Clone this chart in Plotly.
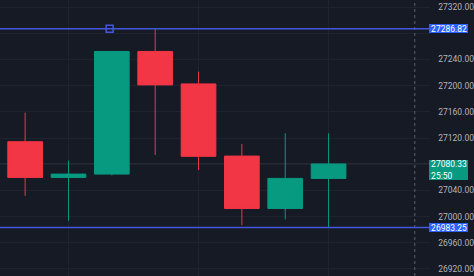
import plotly.graph_objects as go

# OHLC data for eight bars
bar_index = [0, 1, 2, 3, 4, 5, 6, 7]
opens = [27114.3, 27059.8, 27064.9, 27252.1, 27202.6, 27092.4, 27012.4, 27058.3]
highs = [27158.7, 27085.3, 27253.0, 27286.82, 27221.4, 27110.8, 27127.2, 27127.2]
lows = [27031.7, 26993.4, 27063.0, 27094.0, 27071.0, 26986.9, 26995.6, 26983.25]
closes = [27059.8, 27064.9, 27252.1, 27201.1, 27092.0, 27012.4, 27058.3, 27080.33]

# horizontal levels and last price
level_high = 27286.82
level_low = 26983.25
last_price = 27080.33
countdown = "25:50"
price_ticks = [26920, 26960, 27000, 27040, 27080, 27120, 27160, 27200, 27240, 27280, 27320]
# scale labels sitting under the price tags are not printed
covered_ticks = [27080, 27280]

BG = "#161a25"
GRID = "#1f2330"
UP = "#089981"
DOWN = "#f23645"
LINE_BLUE = "#4356dc"
LABEL_BLUE = "#2962ff"
TEXT = "#b2b5be"
PANE_RIGHT = 436 / 474
FONT = "Roboto"

fig = go.Figure()

fig.add_trace(go.Candlestick(
    x=bar_index, open=opens, high=highs, low=lows, close=closes,
    increasing=dict(line=dict(color=UP, width=1), fillcolor=UP),
    decreasing=dict(line=dict(color=DOWN, width=1), fillcolor=DOWN),
    whiskerwidth=0, showlegend=False, hoverinfo="skip",
))

# anchor handle of the upper level drawing
fig.add_trace(go.Scatter(
    x=[1.95], y=[level_high], mode="markers",
    marker=dict(symbol="square", size=7, color=BG,
                line=dict(color=LINE_BLUE, width=1.5)),
    showlegend=False, hoverinfo="skip",
))

shapes = [
    # last price line
    dict(type="line", xref="paper", yref="y", x0=0, x1=PANE_RIGHT,
         y0=last_price, y1=last_price, line=dict(color="#363a45", width=1),
         layer="below"),
    # dashed vertical marker near the scale
    dict(type="line", xref="paper", yref="paper", x0=421 / 474, x1=421 / 474,
         y0=0, y1=1, line=dict(color="#5d606b", width=1, dash="3px,3px")),
    # horizontal levels
    dict(type="line", xref="paper", yref="y", x0=0, x1=PANE_RIGHT,
         y0=level_high, y1=level_high, line=dict(color=LINE_BLUE, width=1.5)),
    dict(type="line", xref="paper", yref="y", x0=0, x1=PANE_RIGHT,
         y0=level_low, y1=level_low, line=dict(color=LINE_BLUE, width=1.5)),
]

tag_font = dict(family=FONT, size=8.5, color="#ffffff")
tag_common = dict(xref="paper", yref="y", x=PANE_RIGHT, xanchor="left",
                  showarrow=False, align="left", borderpad=0, borderwidth=0,
                  font=tag_font)
annotations = [
    dict(tag_common, y=level_high, yanchor="middle", xshift=-1,
         text=f"&nbsp;{level_high:.2f}", bgcolor=LABEL_BLUE, width=39, height=9),
    dict(tag_common, y=level_low, yanchor="middle", xshift=-1,
         text=f"&nbsp;{level_low:.2f}", bgcolor=LABEL_BLUE, width=39, height=9),
    dict(tag_common, y=last_price, yanchor="top", yshift=4, xshift=-1,
         text=f"&nbsp;{last_price:.2f}<br>&nbsp;{countdown}", bgcolor=UP,
         width=39, height=20),
]

fig.update_layout(
    width=474, height=276,
    margin=dict(l=0, r=0, t=0, b=0),
    paper_bgcolor=BG, plot_bgcolor=BG,
    boxgap=0.2, boxgroupgap=0,
    shapes=shapes, annotations=annotations,
    xaxis=dict(domain=[0, PANE_RIGHT], range=[-0.58, 9.33],
               rangeslider=dict(visible=False), showticklabels=False,
               tickvals=[1, 4, 7], showgrid=True, gridcolor=GRID, gridwidth=1,
               zeroline=False, showline=False, fixedrange=True),
    yaxis=dict(side="right", range=[26909.3, 27330.7], tickvals=price_ticks,
               ticktext=["" if v in covered_ticks else f"{v:.2f}" for v in price_ticks],
               showgrid=True, gridcolor=GRID, gridwidth=1, zeroline=False,
               ticks="outside", ticklen=6, tickcolor="rgba(0,0,0,0)",
               tickfont=dict(family=FONT, size=8.5, color=TEXT),
               showline=False, fixedrange=True),
)

fig.write_html("out.html", config=dict(displayModeBar=False))
